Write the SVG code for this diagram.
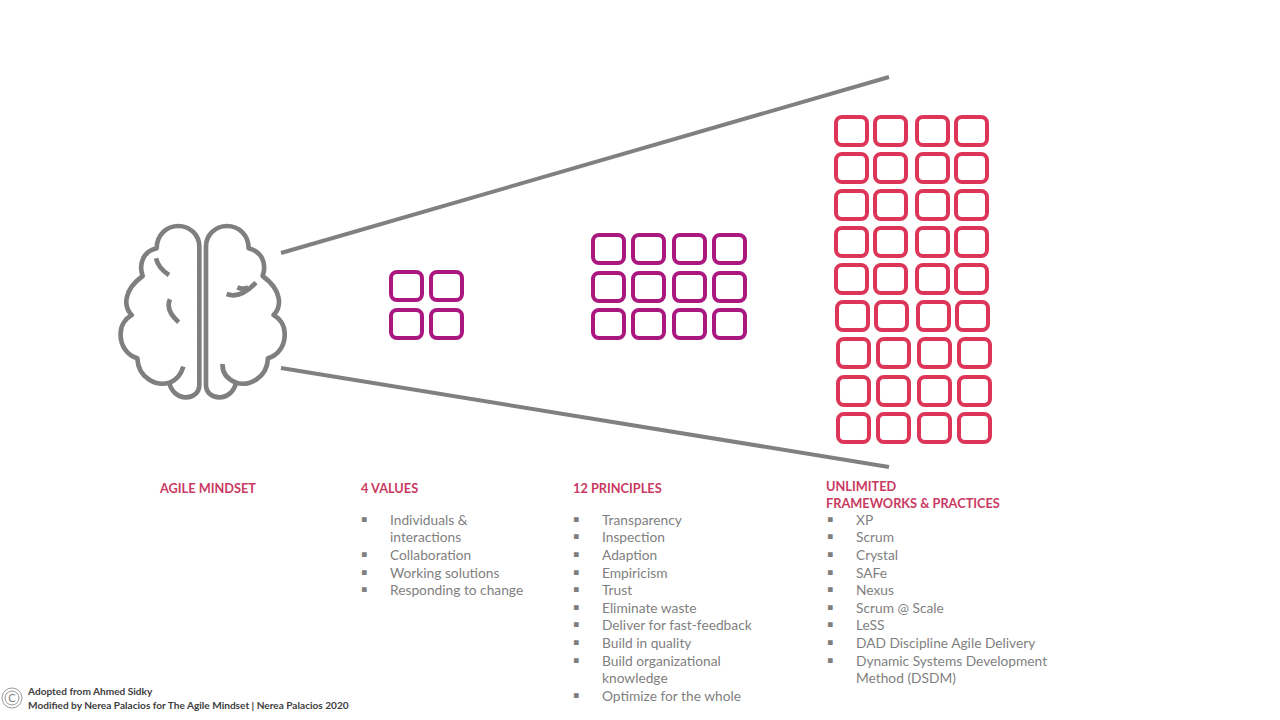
<svg xmlns="http://www.w3.org/2000/svg" width="1280" height="720" viewBox="0 0 1280 720">
<style>
text{font-family:"Lato","Open Sans","Liberation Sans",sans-serif}
.h{font-size:12.75px;font-weight:700;fill:#c93a62}
.b{font-size:13.75px;fill:#7f7f7f}
.m{font-family:"DejaVu Sans",sans-serif;font-size:9.5px;fill:#7f7f7f;transform:translate(1px,-3px)}
.f{font-size:10.1px;font-weight:700;fill:#404040}
.brain{fill:none;stroke:#7f7f7f;stroke-width:14;stroke-linecap:butt;stroke-linejoin:round}
.link{stroke:#808080;stroke-width:4;fill:none}
.pu rect{fill:none;stroke:#a9177f;stroke-width:4;width:31px;height:28px;rx:6px}
.re rect{fill:none;stroke:#dc3558;stroke-width:4;width:31px;height:28px;rx:6px}
</style>
<g id="connectors">
<path class="link" d="M281 253L889 77"/>
<path class="link" d="M281 368L889 467"/>
</g>
<g id="brain" class="brain" transform="translate(100 210) scale(.3333)">
<path d="M298 110V525C298 548 280 562 258 562C235 562 213 545 208 518C170 530 115 505 112 445C80 435 60 405 62 370C62 345 78 325 95 315C70 290 70 240 128 198C115 160 130 125 170 115C170 75 200 48 235 48C270 48 298 75 298 110Z"/>
<path d="M318 110V525C318 548 336 562 358 562C381 562 403 545 408 518C446 530 501 505 504 445C536 435 556 405 554 370C554 345 538 325 521 315C546 290 546 240 488 198C501 160 486 125 446 115C446 75 416 48 381 48C346 48 318 75 318 110Z"/>
<path d="M168 145Q175 175 207 195M210 268Q195 300 236 337M250 470Q240 505 210 518M368 462Q365 500 408 518M380 252Q420 268 468 218M412 232Q430 240 445 232"/>
</g>
<g id="values-grid" class="pu">
<rect x="391" y="272"/><rect x="431" y="272"/>
<rect x="391" y="310"/><rect x="431" y="310"/>
</g>
<g id="principles-grid" class="pu">
<rect x="593" y="235"/><rect x="633" y="235"/><rect x="674" y="235"/><rect x="714" y="235"/>
<rect x="593" y="273"/><rect x="633" y="273"/><rect x="674" y="273"/><rect x="714" y="273"/>
<rect x="593" y="310"/><rect x="633" y="310"/><rect x="674" y="310"/><rect x="714" y="310"/>
</g>
<g id="frameworks-grid" class="re">
<rect x="836" y="117"/><rect x="875" y="117"/><rect x="917" y="117"/><rect x="956" y="117"/>
<rect x="836" y="154"/><rect x="875" y="154"/><rect x="917" y="154"/><rect x="956" y="154"/>
<rect x="836" y="191"/><rect x="875" y="191"/><rect x="917" y="191"/><rect x="956" y="191"/>
<rect x="836" y="228"/><rect x="875" y="228"/><rect x="917" y="228"/><rect x="956" y="228"/>
<rect x="836" y="265"/><rect x="875" y="265"/><rect x="917" y="265"/><rect x="956" y="265"/>
<rect x="837" y="302"/><rect x="876" y="302"/><rect x="918" y="302"/><rect x="957" y="302"/>
<rect x="838" y="339"/><rect x="878" y="339"/><rect x="919" y="339"/><rect x="959" y="339"/>
<rect x="838" y="377"/><rect x="878" y="377"/><rect x="919" y="377"/><rect x="959" y="377"/>
<rect x="838" y="414"/><rect x="878" y="414"/><rect x="919" y="414"/><rect x="959" y="414"/>
</g>
<g id="label-mindset"><text class="h" x="160" y="493">AGILE MINDSET</text></g>
<g id="label-values">
<text class="h" x="361" y="493">4 VALUES</text>
<text class="m" x="360" y="525">▪</text><text class="b" x="390" y="525">Individuals &amp;</text>
<text class="b" x="390" y="542">interactions</text>
<text class="m" x="360" y="560">▪</text><text class="b" x="390" y="560">Collaboration</text>
<text class="m" x="360" y="578">▪</text><text class="b" x="390" y="578">Working solutions</text>
<text class="m" x="360" y="595">▪</text><text class="b" x="390" y="595">Responding to change</text>
</g>
<g id="label-principles">
<text class="h" x="573" y="493">12 PRINCIPLES</text>
<text class="m" x="572" y="525">▪</text><text class="b" x="602" y="525">Transparency</text>
<text class="m" x="572" y="542">▪</text><text class="b" x="602" y="542">Inspection</text>
<text class="m" x="572" y="560">▪</text><text class="b" x="602" y="560">Adaption</text>
<text class="m" x="572" y="578">▪</text><text class="b" x="602" y="578">Empiricism</text>
<text class="m" x="572" y="595">▪</text><text class="b" x="602" y="595">Trust</text>
<text class="m" x="572" y="613">▪</text><text class="b" x="602" y="613">Eliminate waste</text>
<text class="m" x="572" y="630">▪</text><text class="b" x="602" y="630">Deliver for fast-feedback</text>
<text class="m" x="572" y="648">▪</text><text class="b" x="602" y="648">Build in quality</text>
<text class="m" x="572" y="666">▪</text><text class="b" x="602" y="666">Build organizational</text>
<text class="b" x="602" y="683">knowledge</text>
<text class="m" x="572" y="701">▪</text><text class="b" x="602" y="701">Optimize for the whole</text>
</g>
<g id="label-frameworks">
<text class="h" x="826" y="491">UNLIMITED</text>
<text class="h" x="826" y="508">FRAMEWORKS &amp; PRACTICES</text>
<text class="m" x="826" y="525">▪</text><text class="b" x="856" y="525">XP</text>
<text class="m" x="826" y="542">▪</text><text class="b" x="856" y="542">Scrum</text>
<text class="m" x="826" y="560">▪</text><text class="b" x="856" y="560">Crystal</text>
<text class="m" x="826" y="578">▪</text><text class="b" x="856" y="578">SAFe</text>
<text class="m" x="826" y="595">▪</text><text class="b" x="856" y="595">Nexus</text>
<text class="m" x="826" y="613">▪</text><text class="b" x="856" y="613">Scrum @ Scale</text>
<text class="m" x="826" y="630">▪</text><text class="b" x="856" y="630">LeSS</text>
<text class="m" x="826" y="648">▪</text><text class="b" x="856" y="648">DAD Discipline Agile Delivery</text>
<text class="m" x="826" y="666">▪</text><text class="b" x="856" y="666">Dynamic Systems Development</text>
<text class="b" x="856" y="683">Method (DSDM)</text>
</g>
<g id="credit">
<circle cx="12" cy="698" r="10" fill="none" stroke="#7f7f7f" stroke-width=".8"/>
<circle cx="12" cy="698" r="7" fill="none" stroke="#7f7f7f" stroke-width=".8"/>
<text x="12" y="702" text-anchor="middle" font-size="11" fill="#7f7f7f">C</text>
<text class="f" x="28" y="695">Adopted from Ahmed Sidky</text>
<text class="f" x="28" y="709">Modified by Nerea Palacios for The Agile Mindset | Nerea Palacios 2020</text>
</g>
</svg>
